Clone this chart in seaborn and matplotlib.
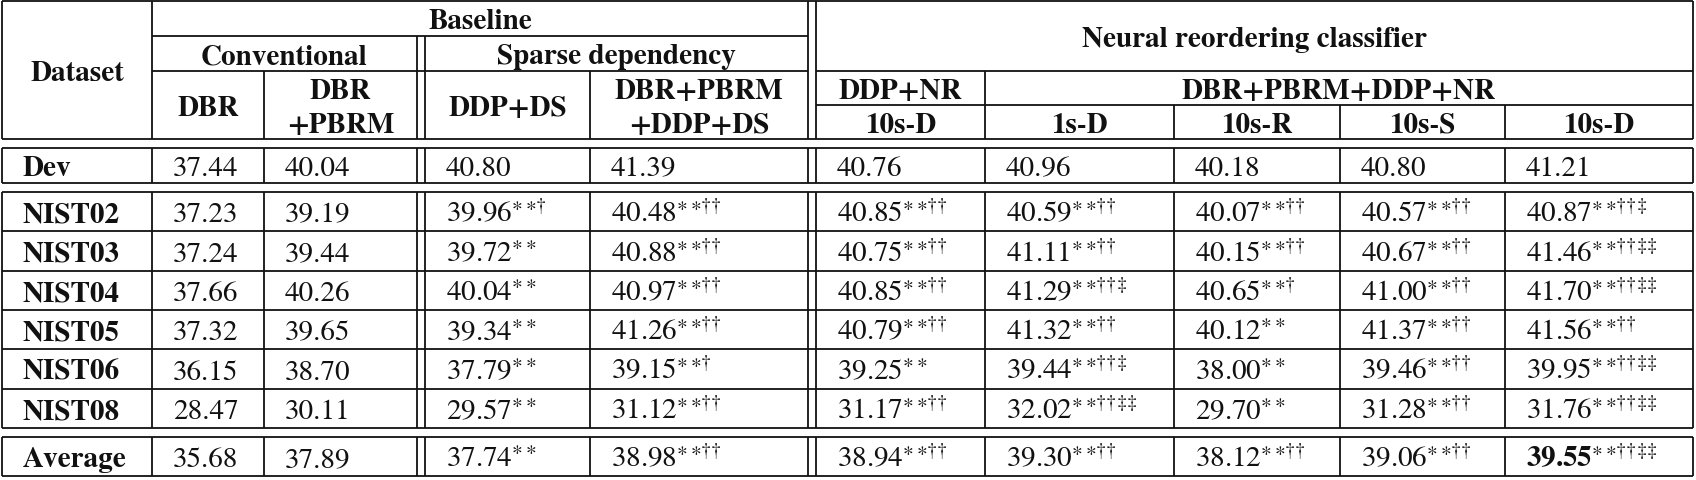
import matplotlib
matplotlib.use('Agg')
import matplotlib.pyplot as plt
import seaborn as sns

# Rows of the table
datasets = ['Dev', 'NIST02', 'NIST03', 'NIST04', 'NIST05', 'NIST06', 'NIST08', 'Average']

# BLEU scores per system (one list per column)
dbr = [37.44, 37.23, 37.24, 37.66, 37.32, 36.15, 28.47, 35.68]
dbr_pbrm = [40.04, 39.19, 39.44, 40.26, 39.65, 38.70, 30.11, 37.89]
ddp_ds = [40.80, 39.96, 39.72, 40.04, 39.34, 37.79, 29.57, 37.74]
full_ds = [41.39, 40.48, 40.88, 40.97, 41.26, 39.15, 31.12, 38.98]
ddp_nr = [40.76, 40.85, 40.75, 40.85, 40.79, 39.25, 31.17, 38.94]
nr_1s_d = [40.96, 40.59, 41.11, 41.29, 41.32, 39.44, 32.02, 39.30]
nr_10s_r = [40.18, 40.07, 40.15, 40.65, 40.12, 38.00, 29.70, 38.12]
nr_10s_s = [40.80, 40.57, 40.67, 41.00, 41.37, 39.46, 31.28, 39.06]
nr_10s_d = [41.21, 40.87, 41.46, 41.70, 41.56, 39.95, 31.76, 39.55]

# Significance marks, same order as the scores
sig_dbr = [''] * 8
sig_dbr_pbrm = [''] * 8
sig_ddp_ds = ['', '**†', '**', '**', '**', '**', '**', '**']
sig_full_ds = ['', '**††', '**††', '**††', '**††', '**†', '**††', '**††']
sig_ddp_nr = ['', '**††', '**††', '**††', '**††', '**', '**††', '**††']
sig_1s_d = ['', '**††', '**††', '**††‡', '**††', '**††‡', '**††‡‡', '**††']
sig_10s_r = ['', '**††', '**††', '**†', '**', '**', '**', '**††']
sig_10s_s = ['', '**††', '**††', '**††', '**††', '**††', '**††', '**††']
sig_10s_d = ['', '**††‡', '**††‡‡', '**††‡‡', '**††', '**††‡‡', '**††‡‡', '**††‡‡']

columns = [dbr, dbr_pbrm, ddp_ds, full_ds, ddp_nr, nr_1s_d, nr_10s_r, nr_10s_s, nr_10s_d]
marks = [sig_dbr, sig_dbr_pbrm, sig_ddp_ds, sig_full_ds, sig_ddp_nr,
         sig_1s_d, sig_10s_r, sig_10s_s, sig_10s_d]

sns.set_theme(style='white')
plt.rcParams['font.family'] = ['STIXGeneral', 'DejaVu Serif']
plt.rcParams['mathtext.fontset'] = 'stix'

# layout in pixels
W, H = 1696, 481
L, R = 2, 1693
col_left = [152, 264, 425, 590, 816, 985, 1174, 1340, 1505]
col_lines = [152, 264, 417, 425, 590, 808, 816, 985, 1174, 1340, 1505]
row_bounds = [(149, 184), (193, 232), (232, 272), (272, 311),
              (311, 350), (350, 390), (390, 429), (438, 477)]
blocks = [(2, 140), (149, 184), (193, 429), (438, 477)]

fs = 21
base = 9.6   # baseline offset below a row centre
lw = 1.3
ink = '#111111'

fig = plt.figure(figsize=(W / 100, H / 100), dpi=100)
ax = fig.add_axes([0, 0, 1, 1])
ax.set_xlim(0, W)
ax.set_ylim(H, 0)
ax.axis('off')


def hline(y, x0, x1):
    ax.plot([x0, x1], [y, y], color=ink, lw=lw, solid_capstyle='butt')


def vline(x, y0, y1):
    ax.plot([x, x], [y0, y1], color=ink, lw=lw, solid_capstyle='butt')


# outer boxes of the four blocks
for top, bot in blocks:
    hline(top, L, R)
    hline(bot, L, R)
    vline(L, top, bot)
    vline(R, top, bot)

# data block grid
for top, bot in blocks[1:]:
    for x in col_lines:
        vline(x, top, bot)
for top, bot in row_bounds[1:6]:
    hline(bot, L, R)

# header grid
vline(152, 2, 140)
vline(808, 2, 140)
vline(816, 2, 140)
vline(417, 37, 140)
vline(425, 37, 140)
for x in [264, 590, 985]:
    vline(x, 72, 140)
for x in [1174, 1340, 1505]:
    vline(x, 106, 140)
hline(37, 152, 808)
hline(72, 152, 808)
hline(72, 816, R)
hline(106, 816, R)


def head(x0, x1, yc, s):
    ax.text((x0 + x1) / 2, yc + base, s, ha='center', va='baseline',
            fontsize=fs, fontweight='bold', color=ink)


head(L, 152, 71, 'Dataset')
head(152, 808, 19.5, 'Baseline')
head(816, R, 37, 'Neural reordering classifier')
head(152, 417, 54.5, 'Conventional')
head(425, 808, 54.5, 'Sparse dependency')
head(152, 264, 106, 'DBR')
head(264, 417, 89, 'DBR')
head(264, 417, 123, '+PBRM')
head(425, 590, 106, 'DDP+DS')
head(590, 808, 89, 'DBR+PBRM')
head(590, 808, 123, '+DDP+DS')
head(816, 985, 89, 'DDP+NR')
head(985, R, 89, 'DBR+PBRM+DDP+NR')
sub_heads = ['10s-D', '1s-D', '10s-R', '10s-S', '10s-D']
sub_edges = [816, 985, 1174, 1340, 1505, R]
for i, s in enumerate(sub_heads):
    head(sub_edges[i], sub_edges[i + 1], 123, s)


def sup_tex(m):
    # braces keep mathtext from adding binary-operator spacing
    tex = (m.replace('*', r'{\ast}\,').replace('‡', r'{\ddagger}')
            .replace('†', r'{\dagger}'))
    tex = tex.replace(r'\,{\dagger}', r'{\dagger}').replace(r'\,{\ddagger}', r'{\ddagger}')
    if tex.endswith(r'\,'):
        tex = tex[:-2]
    return '$^{' + tex + '}$' if tex else ''


# body
for r, (name, (top, bot)) in enumerate(zip(datasets, row_bounds)):
    yb = (top + bot) / 2 + base
    ax.text(L + 21, yb, name, ha='left', va='baseline', fontsize=fs,
            fontweight='bold', color=ink)
    best = max(col[r] for col in columns) if name == 'Average' else None
    for c, (col, mk) in enumerate(zip(columns, marks)):
        weight = 'bold' if best is not None and col[r] == best else 'normal'
        ax.text(col_left[c] + 21, yb, f'{col[r]:.2f}' + sup_tex(mk[r]),
                ha='left', va='baseline', fontsize=fs, fontweight=weight, color=ink)

fig.savefig('out.png', dpi=100, facecolor='white')
